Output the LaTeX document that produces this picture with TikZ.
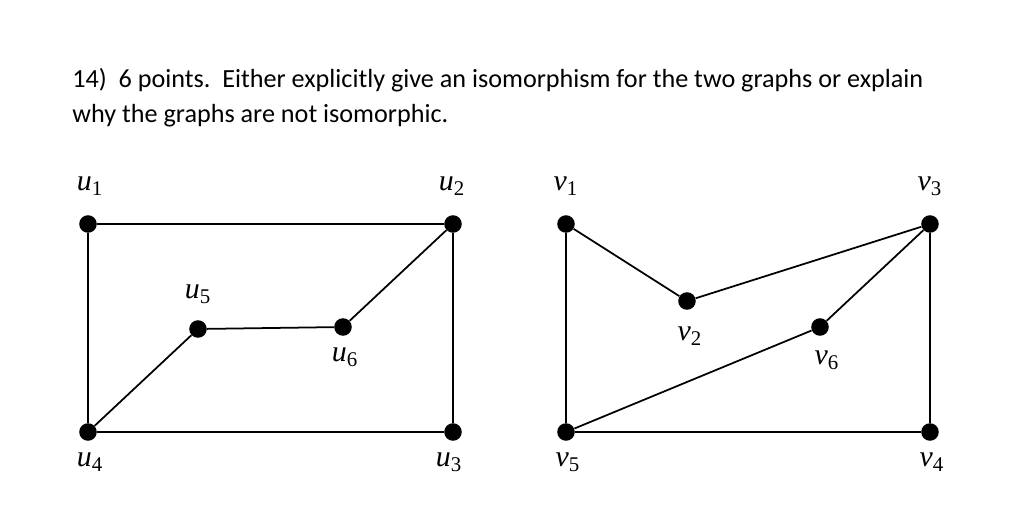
\documentclass[tikz,border=0pt]{standalone}
\usepackage{fontspec}
\setmainfont{Carlito}
\newfontfamily\lab{Liberation Serif}
\newcommand{\sbx}[1]{\textsubscript{\upshape #1}}
\begin{document}
\begin{tikzpicture}[x=0.02cm,y=-0.02cm,
  vtx/.style={circle,fill=black,inner sep=0pt,minimum size=10pt},
  lbl/.style={font=\lab\fontsize{17}{19}\selectfont\itshape},
  edge/.style={line width=1pt}]
\useasboundingbox (0,0) rectangle (1024,518);
\node[anchor=west,font=\fontsize{14.9}{18}\selectfont,inner sep=0pt] (t1) at (72,80) {14)\ \ 6 points.\ \ Either explicitly give an isomorphism for the two graphs or explain};
\node[anchor=west,font=\fontsize{14.9}{18}\selectfont,inner sep=0pt] (t2) at (72,116) {why the graphs are not isomorphic.};
\node[vtx] (u1) at (88,224) {}; \node[vtx] (u2) at (453,224) {};
\node[vtx] (u5) at (198,329) {}; \node[vtx] (u6) at (343,327) {};
\node[vtx] (u4) at (88,432) {}; \node[vtx] (u3) at (453,432) {};
\node[vtx] (v1) at (566,224) {}; \node[vtx] (v3) at (930,224) {};
\node[vtx] (v2) at (687,301) {}; \node[vtx] (v6) at (820,327) {};
\node[vtx] (v5) at (566,432) {}; \node[vtx] (v4) at (930,432) {};
\draw[edge] (u1)--(u2) (u1)--(u4) (u4)--(u3) (u2)--(u3) (u2)--(u6) (u6)--(u5) (u5)--(u4);
\draw[edge] (v1)--(v5) (v1)--(v2) (v2)--(v3) (v3)--(v4) (v5)--(v4) (v3)--(v6) (v6)--(v5);
\node[lbl] (lu1) at (90,186) {u\sbx{1}};
\node[lbl] (lu2) at (452,186) {u\sbx{2}};
\node[lbl] (lu5) at (198,294) {u\sbx{5}};
\node[lbl] (lu6) at (345,357) {u\sbx{6}};
\node[lbl] (lu4) at (90,462) {u\sbx{4}};
\node[lbl] (lu3) at (449,462) {u\sbx{3}};
\node[lbl] (lv1) at (566,186) {v\sbx{1}};
\node[lbl] (lv3) at (930,186) {v\sbx{3}};
\node[lbl] (lv2) at (690,336) {v\sbx{2}};
\node[lbl] (lv6) at (827,360) {v\sbx{6}};
\node[lbl] (lv5) at (568,462) {v\sbx{5}};
\node[lbl] (lv4) at (932,462) {v\sbx{4}};
\end{tikzpicture}
\end{document}
